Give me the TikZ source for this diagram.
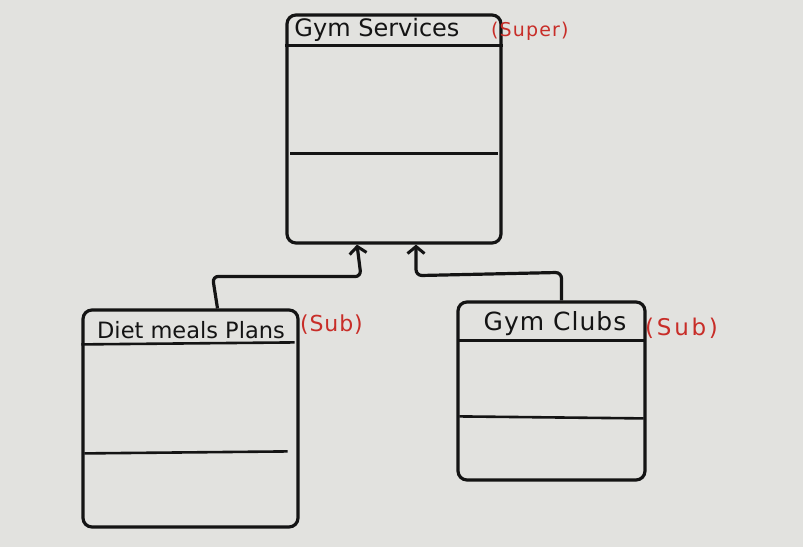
\documentclass[tikz,border=0pt]{standalone}
\usepackage{fontspec}
\setmainfont{DejaVu Sans}
\usetikzlibrary{arrows.meta,calc}
\definecolor{board}{RGB}{226,226,223}
\definecolor{ink}{RGB}{20,20,20}
\definecolor{redink}{RGB}{200,45,40}
\tikzset{
  classbox/.style={draw=ink, line width=3.2pt, rounded corners=9pt, inner sep=0pt, rectangle},
  sepline/.style={draw=ink, line width=2.6pt},
  title/.style={text=ink, inner sep=0pt},
  tag/.style={text=redink, inner sep=0pt},
  inh/.style={draw=ink, line width=3.2pt, rounded corners=6pt, -{Straight Barb[length=7pt,width=17pt,line width=3pt]}}
}
\begin{document}
\begin{tikzpicture}[x=1pt,y=-1pt]
\fill[board] (0,0) rectangle (803,547);
\useasboundingbox (0,0) rectangle (803,547);

% classes
\node[classbox, minimum width=214pt, minimum height=228pt] (gs) at (394,129) {};
\node[classbox, minimum width=215pt, minimum height=217pt] (diet) at (190.5,418.5) {};
\node[classbox, minimum width=187pt, minimum height=178pt] (gc) at (551.5,391) {};

% compartments
\draw[sepline] ($(gs.north west)+(0,-32pt)$) -- ($(gs.north east)+(0,-32pt)$);
\draw[sepline] ($(gs.north west)+(5,-140pt)$) -- ($(gs.north east)+(-5,-140pt)$);
\draw[sepline] ($(diet.north west)+(0,-36pt)$) -- ($(diet.north east)+(-5,-34pt)$);
\draw[sepline] ($(diet.north west)+(3,-145pt)$) -- ($(diet.north east)+(-12,-143pt)$);
\draw[sepline] ($(gc.north west)+(3,-40pt)$) -- ($(gc.north east)+(-3,-40pt)$);
\draw[sepline] ($(gc.north west)+(3,-116pt)$) -- ($(gc.north east)+(-3,-118pt)$);

% titles
\node[title, font=\fontsize{24}{28}\selectfont] (gst) at (377,30) {Gym Services};
\node[title, font=\fontsize{22.5}{26}\selectfont] (dt) at (191,330) {Diet meals Plans};
\node[title, font=\fontsize{25}{29}\selectfont\addfontfeature{LetterSpace=4}] (gct) at (555,324) {Gym Clubs};

% stereotype tags
\node[tag, anchor=west, font=\fontsize{19}{22}\selectfont\addfontfeature{LetterSpace=6}] (gss) at (491,31) {(Super)};
\node[tag, anchor=west, font=\fontsize{22}{26}\selectfont\addfontfeature{LetterSpace=4}] (ds) at (300,325) {(Sub)};
\node[tag, anchor=west, font=\fontsize{23}{27}\selectfont\addfontfeature{LetterSpace=12}] (gcs) at (645,328) {(Sub)};

% inheritance connectors
\draw[inh] ([xshift=27pt]diet.north) -- ++(-5,-32) -- ($([xshift=-37pt]gs.south)+(4,32)$) -- ([xshift=-37pt]gs.south);
\draw[inh] ([xshift=10pt]gc.north) -- ++(0,-28) -- ($([xshift=22pt]gs.south)+(0,31)$) -- ([xshift=22pt]gs.south);
\end{tikzpicture}
\end{document}
